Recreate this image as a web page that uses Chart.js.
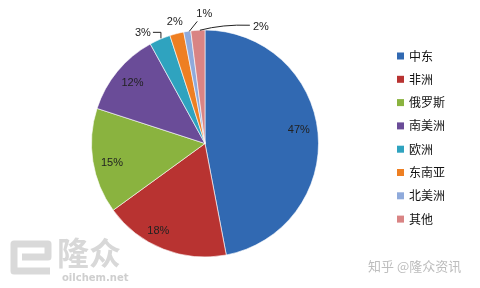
<!DOCTYPE html>
<html>
<head>
<meta charset="utf-8">
<script src="https://cdn.jsdelivr.net/npm/chart.js@4/dist/chart.umd.min.js"></script>
<style>
	html, body { margin: 0; padding: 0; background: #fff; }
	#wrap { width: 480px; height: 288px; position: relative; }
</style>
</head>
<body>
<div id="wrap"><canvas id="chart" width="480" height="288"></canvas></div>
<script>
const regions = ['中东', '非洲', '俄罗斯', '南美洲', '欧洲', '东南亚', '北美洲', '其他'];
const shares = [47, 18, 15, 12, 3, 2, 1, 2];
const shareLabels = ['47%', '18%', '15%', '12%', '3%', '2%', '1%', '2%'];

const colors = [
	'#3169B2', // blue
	'#B83331', // red
	'#8AB33F', // green
	'#6A4C98', // purple
	'#2FA3BF', // teal
	'#EE7F22', // orange
	'#8FAADB', // light blue
	'#D98484', // pink
];

// label placement: inside slices use a radius factor, small ones sit outside with leaders
const labelStyle = [
	{ inside: true, r: 0.83, dx: 0, dy: -5 },
	{ inside: true, r: 0.83, dx: -12, dy: 0 },
	{ inside: true, r: 0.83, dx: 0, dy: 5 },
	{ inside: true, r: 0.83, dx: 0, dy: 0 },
	{ inside: false, leader: 'bracket', tx: -17, ty: -6 },
	{ inside: false, leader: 'none', tx: -2, ty: -12 },
	{ inside: false, leader: 'line', lx: 10, ly: -10, tx: 17, ty: -17 },
	{ inside: false, leader: 'curve', lx: 52, ly: -5, tx: 63, ty: -3 },
];

const labelPlugin = {
	id: 'sliceLabels',
	afterDatasetsDraw(chart) {
		const { ctx } = chart;
		const arcs = chart.getDatasetMeta(0).data;
		ctx.save();
		ctx.font = '11px "Liberation Sans", Arial, sans-serif';
		ctx.fillStyle = '#222';
		ctx.strokeStyle = '#222';
		ctx.lineWidth = 1;
		ctx.textAlign = 'center';
		ctx.textBaseline = 'middle';
		arcs.forEach((arc, i) => {
			const s = labelStyle[i];
			const mid = (arc.startAngle + arc.endAngle) / 2;
			const cos = Math.cos(mid), sin = Math.sin(mid);
			if (s.inside) {
				const r = arc.outerRadius * s.r;
				ctx.fillText(shareLabels[i], arc.x + cos * r + s.dx, arc.y + sin * r + s.dy);
				return;
			}
			const px = arc.x + cos * arc.outerRadius;
			const py = arc.y + sin * arc.outerRadius;
			if (s.leader === 'bracket') {
				ctx.beginPath();
				ctx.moveTo(px + 1, py - 1);
				ctx.lineTo(px + 1, py - 7);
				ctx.lineTo(px - 7, py - 7);
				ctx.stroke();
			} else if (s.leader === 'line') {
				ctx.beginPath();
				ctx.moveTo(px + 2, py);
				ctx.lineTo(px + s.lx, py + s.ly);
				ctx.stroke();
			} else if (s.leader === 'curve') {
				ctx.beginPath();
				ctx.moveTo(px + 2, py);
				ctx.quadraticCurveTo(px + 25, py - 6, px + s.lx, py + s.ly);
				ctx.stroke();
			}
			ctx.fillText(shareLabels[i], px + s.tx, py + s.ty);
		});
		ctx.restore();
	},
};

const legendPlugin = {
	id: 'sideLegend',
	afterDraw(chart) {
		const { ctx } = chart;
		ctx.save();
		ctx.font = '12px "Noto Sans CJK SC", sans-serif';
		ctx.textBaseline = 'middle';
		ctx.textAlign = 'left';
		regions.forEach((name, i) => {
			const y = 56 + i * 23.3;
			ctx.fillStyle = colors[i];
			ctx.fillRect(397, y - 3.5, 7, 7);
			ctx.fillStyle = '#111';
			ctx.fillText(name, 409, y);
		});
		ctx.restore();
	},
};

const watermarkPlugin = {
	id: 'watermark',
	afterDraw(chart) {
		const { ctx } = chart;
		ctx.save();
		// left logo
		ctx.strokeStyle = '#d9d9d9';
		ctx.lineWidth = 7;
		ctx.lineJoin = 'round';
		ctx.beginPath();
		ctx.moveTo(50, 271);
		ctx.lineTo(14, 271);
		ctx.lineTo(14, 244);
		ctx.lineTo(48, 244);
		ctx.lineTo(48, 257);
		ctx.lineTo(22, 257);
		ctx.stroke();
		ctx.fillStyle = '#d8d8d8';
		ctx.font = 'bold 32px "Noto Sans CJK SC", sans-serif';
		ctx.textBaseline = 'middle';
		ctx.fillText('隆众', 57, 253);
		ctx.font = 'bold 10px "DejaVu Sans", sans-serif';
		ctx.fillStyle = '#cfcfcf';
		ctx.fillText('oilchem.net', 62, 278);
		// right credit
		ctx.font = '13px "Noto Sans CJK SC", sans-serif';
		ctx.fillStyle = '#bdbdbd';
		ctx.fillText('知乎 @隆众资讯', 368, 266);
		ctx.restore();
	},
};

new Chart(document.getElementById('chart').getContext('2d'), {
	type: 'pie',
	data: {
		labels: regions,
		datasets: [{
			data: shares,
			backgroundColor: colors,
			borderColor: 'rgba(255,255,255,0.6)',
			borderWidth: 1,
		}],
	},
	options: {
		responsive: false,
		animation: false,
		layout: { padding: { left: 91, right: 161, top: 29, bottom: 30 } },
		plugins: {
			legend: { display: false },
			tooltip: { enabled: false },
		},
	},
	plugins: [labelPlugin, legendPlugin, watermarkPlugin],
});
</script>
</body>
</html>
